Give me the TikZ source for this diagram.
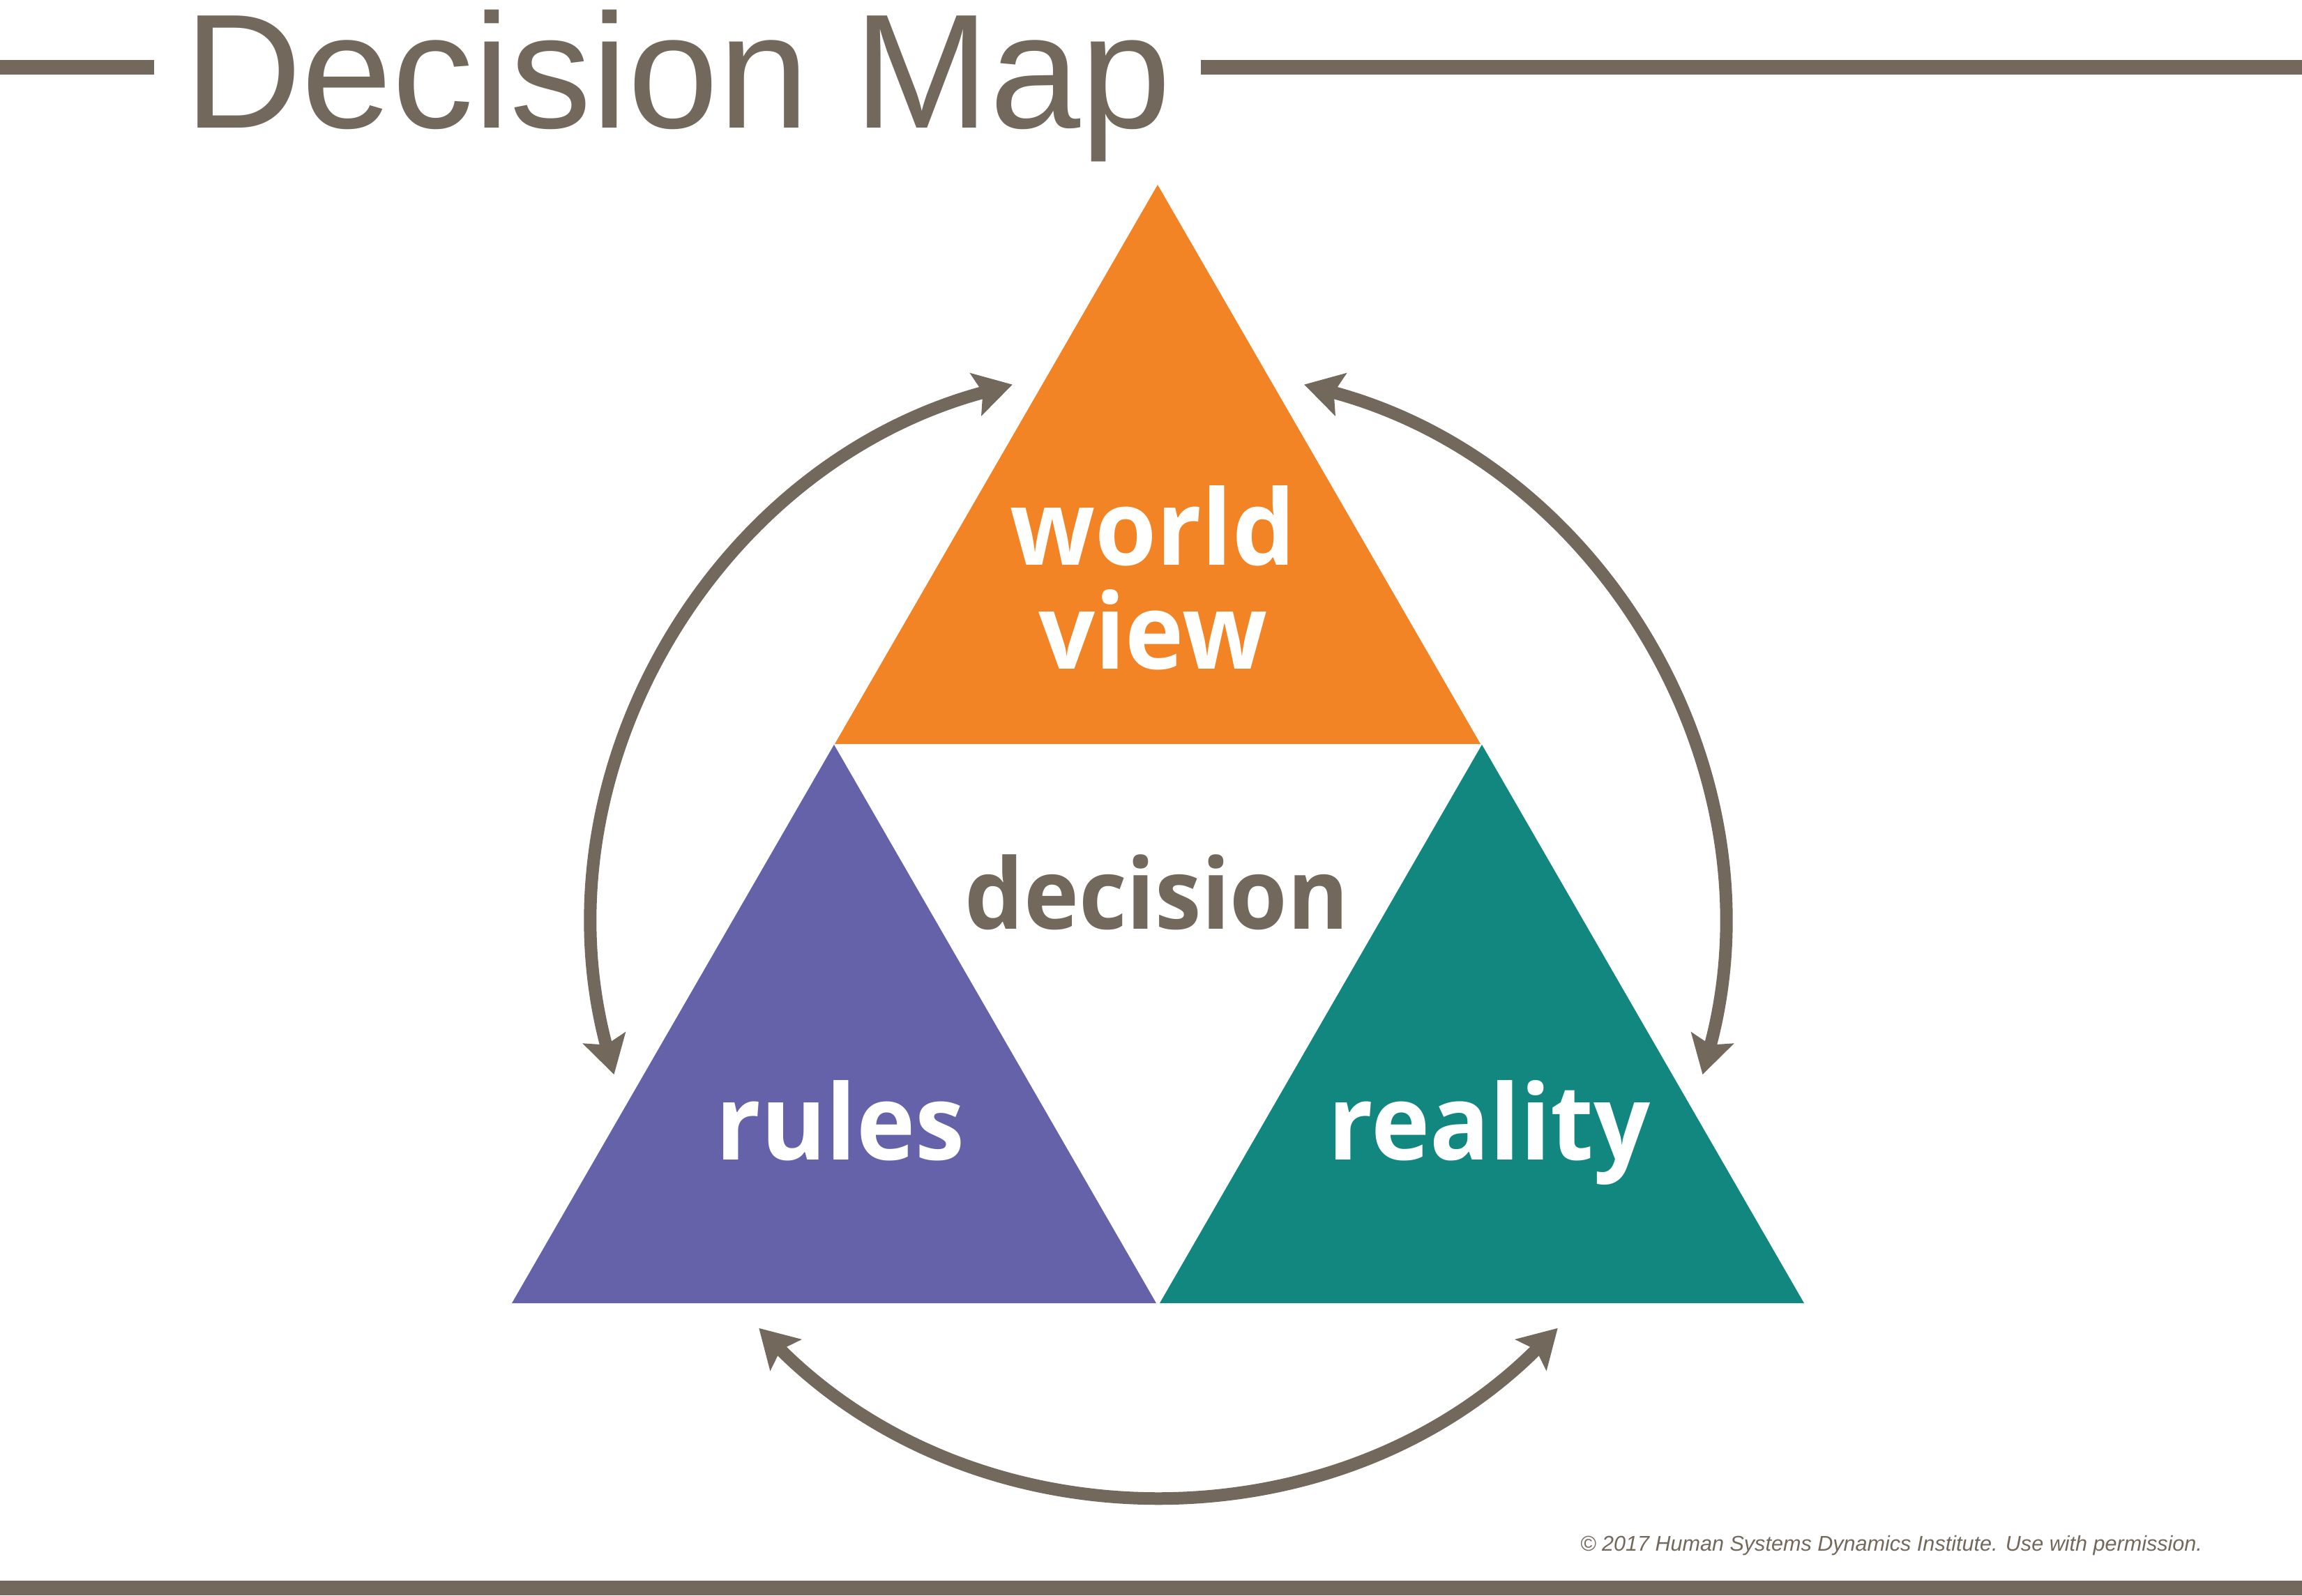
\documentclass[tikz,border=0pt]{standalone}
\usepackage{fontspec}
\setmainfont{Liberation Sans}
\newfontfamily\polefont{Open Sans}[FakeStretch=0.95]
\usetikzlibrary{arrows.meta}

\definecolor{hsdgray}{HTML}{72685C}
\definecolor{hsdorange}{HTML}{F38425}
\definecolor{hsdpurple}{HTML}{6662AA}
\definecolor{hsdteal}{HTML}{11877F}

\begin{document}
\begin{tikzpicture}[
    rule/.style={line width=0.21cm, hsdgray},
    loop arrow/.style={line width=0.18cm, hsdgray,
      {Stealth[length=0.54cm,width=0.62cm,inset=0.1cm]}-{Stealth[length=0.54cm,width=0.62cm,inset=0.1cm]}},
    pole/.style={font=\polefont\bfseries\fontsize{42.7}{42.7}\selectfont, text=white, anchor=base, inner sep=0pt}
  ]
        \useasboundingbox (0,0) rectangle (33.01,-22.88);

        % Title and rules
        \node (title) [anchor=base, inner sep=0pt, text=hsdgray, font=\fontsize{66.5}{70}\selectfont] at (9.72,-1.83) {Decision Map};
        \draw[rule] (0,-0.96) -- (2.21,-0.96);
        \draw[rule] (17.22,-0.96) -- (33.01,-0.96);
        \draw[rule] (0,-22.775) -- (33.01,-22.775);

        % The three triangles
        \fill[hsdorange] (16.60,-2.65) -- (11.97,-10.67) -- (21.23,-10.67) -- cycle;
        \fill[hsdpurple] (11.96,-10.68) -- (7.34,-18.69) -- (16.58,-18.69) -- cycle;
        \fill[hsdteal] (21.25,-10.68) -- (16.63,-18.69) -- (25.87,-18.69) -- cycle;

        % Labels
        \node (world) [pole] at (16.53,-8.105) {world};
        \node (view) [pole] at (16.53,-9.59) {view};
        \node (rules) [pole] at (12.05,-16.63) {rules};
        \node (reality) [pole] at (21.355,-16.63) {reality};
        \node (decision) [pole, text=hsdgray, font=\polefont\bfseries\fontsize{40}{40}\selectfont] at (16.59,-13.32) {decision};

        % Arrows round the triangle
        \coordinate (hub) at (16.61,-13.32);
        \draw[loop arrow] ([shift={(105:8.08)}]hub) arc[start angle=105,end angle=195,radius=8.08];
        \draw[loop arrow] ([shift={(75:8.08)}]hub) arc[start angle=75,end angle=-15,radius=8.08];
        \draw[loop arrow] ([shift={(225:8.1)}]hub) arc[start angle=225,end angle=315,radius=8.1];

        % Credit line
        \node (credit) [anchor=base, inner sep=0pt, text=hsdgray, font=\itshape\fontsize{8.7}{10}\selectfont] at (27.12,-22.24) {© 2017 Human Systems Dynamics Institute. Use with permission.};

\end{tikzpicture}
\end{document}
